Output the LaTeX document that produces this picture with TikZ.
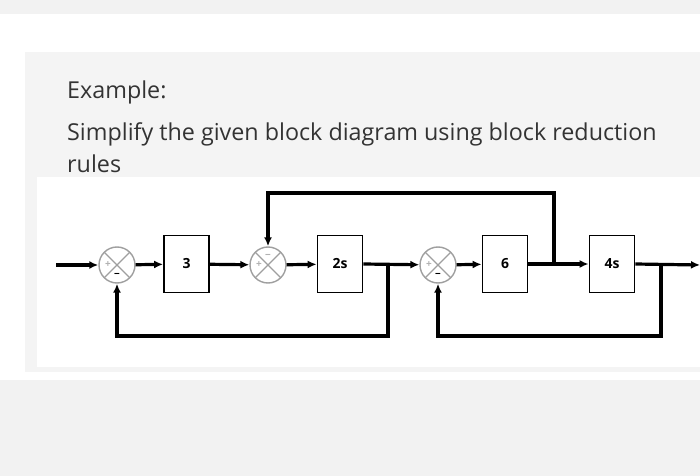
\documentclass[tikz,border=0pt]{standalone}
\usepackage{fontspec}
\setmainfont{Open Sans}
\usetikzlibrary{arrows.meta}
\begin{document}
\begin{tikzpicture}[x=1bp,y=-1bp,
  sig/.style={line width=3.2bp,-{Latex[length=9bp,width=8bp]}},
  blk/.style={draw,line width=1.8bp,minimum width=45bp,minimum height=57bp,font=\bfseries\fontsize{14}{16}\selectfont,inner sep=0pt},
  sum/.style={circle,draw=gray!75,line width=1.4bp,minimum size=36bp,inner sep=0pt,
    path picture={\draw[gray!75,line width=1.4bp] (path picture bounding box.north west)--(path picture bounding box.south east) (path picture bounding box.north east)--(path picture bounding box.south west);}},
  sg/.style={font=\bfseries\fontsize{10}{10}\selectfont,inner sep=0pt},
  txt/.style={anchor=base west,text=black!80,font=\fontsize{23.4}{27}\selectfont,inner sep=0pt}]
\useasboundingbox (0,0) rectangle (700,476);
\fill[white] (0,0) rectangle (700,476);
\fill[gray!10] (0,0) rectangle (700,14);
\fill[gray!9] (25,52) rectangle (700,372);
\fill[gray!10] (0,380) rectangle (700,476);
\fill[white] (37,177) rectangle (700,367);
\node[txt] (t1) at (67,99) {Example:};
\node[txt] (t2) at (67,141) {Simplify the given block diagram using block reduction};
\begin{scope}
\clip (25,150) rectangle (700,177);
\node[txt] (t3) at (67,173) {rules};
\end{scope}
\node[sum] (s1) at (117,265) {};
\node[sum] (s2) at (268,265) {};
\node[sum] (s3) at (438,265) {};
\node[blk] (b1) at (186.5,264) {3};
\node[blk] (b2) at (340,264) {2s};
\node[blk] (b3) at (505,264) {6};
\node[blk] (b4) at (612,264) {4s};
\node[sg,text=gray!60] at ([xshift=-9bp]s1.center) {+};
\node[sg] at ([yshift=-10bp]s1.center) {\textminus};
\node[sg,text=gray!60] at ([xshift=-9bp]s2.center) {+};
\node[sg,text=gray!60] at ([yshift=9bp]s2.center) {\textminus};
\node[sg,text=gray!60] at ([xshift=-9bp]s3.center) {+};
\node[sg] at ([yshift=-10bp]s3.center) {\textminus};
\coordinate (in) at (56,265);
\coordinate (out) at (700,265);
\coordinate (p1) at (388,265);
\coordinate (p2) at (554,265);
\coordinate (p3) at (661,265);
\draw[sig] (in) -- (s1);
\draw[sig] (s1) -- (b1);
\draw[sig] (b1) -- (s2);
\draw[sig] (s2) -- (b2);
\draw[sig] (b2.east) -- (s3);
\draw[sig] (s3) -- (b3);
\draw[sig] (b3.east) -- (b4);
\draw[sig] (b4.east) -- (out);
\draw[sig] (p1) -- (388,336) -- (117,336) -- (s1);
\draw[sig] (p3) -- (661,336) -- (438,336) -- (s3);
\draw[sig] (p2) -- (554,193) -- (268,193) -- (s2);
\end{tikzpicture}
\end{document}
